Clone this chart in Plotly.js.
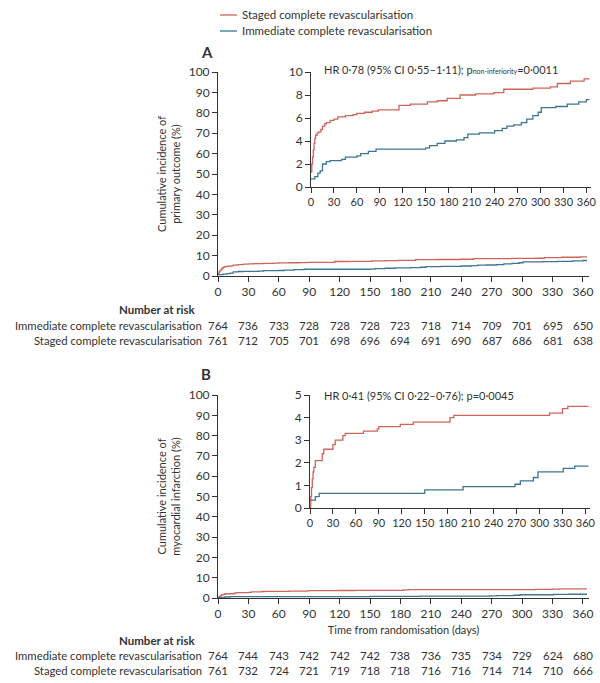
<!DOCTYPE html>
<html>
<head>
<meta charset="utf-8">
<script src="https://cdn.plot.ly/plotly-3.0.1.min.js"></script>
<style>
  html, body { margin: 0; padding: 0; background: #fff; }
  #chart { width: 600px; height: 683px; }
</style>
</head>
<body>
<div id="chart"></div>
<script>
// step curves (days, cumulative %)
const stagedA_days = [0, 1, 2, 3, 4, 5, 6, 8, 10, 13, 15, 18, 20, 25, 30, 35, 45, 55, 60, 70, 80, 88, 115, 130, 152, 165, 178, 195, 215, 239, 252, 290, 313, 322, 339, 357, 364];
const stagedA_vals = [1.3, 2.0, 2.6, 3.2, 3.8, 4.2, 4.5, 4.7, 4.8, 5.0, 5.3, 5.5, 5.6, 5.8, 5.9, 6.1, 6.2, 6.3, 6.4, 6.5, 6.6, 6.7, 7.1, 7.2, 7.4, 7.5, 7.7, 8.0, 8.1, 8.2, 8.5, 8.6, 8.7, 9.0, 9.2, 9.4, 9.4];

const immA_days = [0, 5, 9, 12, 15, 20, 25, 40, 45, 60, 65, 75, 85, 150, 155, 165, 175, 190, 200, 205, 220, 240, 250, 256, 265, 275, 282, 290, 297, 301, 320, 335, 350, 360, 364];
const immA_vals = [0.7, 0.9, 1.2, 1.4, 2.0, 2.2, 2.3, 2.4, 2.6, 2.7, 2.9, 3.1, 3.3, 3.4, 3.6, 3.8, 4.0, 4.1, 4.3, 4.6, 4.7, 4.9, 5.1, 5.3, 5.4, 5.6, 5.9, 6.2, 6.5, 6.9, 7.0, 7.2, 7.4, 7.6, 7.6];

const stagedB_days = [0, 1, 2, 3, 4, 5, 7, 16, 18, 30, 33, 43, 46, 70, 88, 90, 118, 135, 183, 188, 313, 330, 337, 364];
const stagedB_vals = [0, 0.5, 0.9, 1.3, 1.6, 1.8, 2.1, 2.4, 2.6, 2.8, 3.0, 3.2, 3.3, 3.4, 3.5, 3.6, 3.7, 3.8, 4.0, 4.1, 4.2, 4.4, 4.5, 4.5];

const immB_days = [0, 7, 12, 150, 200, 268, 275, 292, 298, 331, 346, 364];
const immB_vals = [0.35, 0.5, 0.65, 0.8, 0.95, 1.05, 1.2, 1.35, 1.6, 1.75, 1.85, 1.85];

// number at risk
const riskDays = [0, 30, 60, 90, 120, 150, 180, 210, 240, 270, 300, 330, 360];
const riskA_imm = [764, 736, 733, 728, 728, 728, 723, 718, 714, 709, 701, 695, 650];
const riskA_stg = [761, 712, 705, 701, 698, 696, 694, 691, 690, 687, 686, 681, 638];
const riskB_imm = [764, 744, 743, 742, 742, 742, 738, 736, 735, 734, 729, 624, 680];
const riskB_stg = [761, 732, 724, 721, 719, 718, 718, 716, 716, 714, 714, 710, 666];

const RED = '#d0645a';
const BLUE = '#3d7592';
const FONT = 'Lato, "Liberation Sans", sans-serif';
const TXT = '#333';

const W = 600, H = 683;
const px = x => x / W;
const py = y => 1 - y / H;

function curve(x, y, color, xa, ya, name) {
  return {
    x: x, y: y, type: 'scatter', mode: 'lines',
    line: { shape: 'hv', color: color, width: 1.3 },
    xaxis: xa, yaxis: ya, name: name, showlegend: false, hoverinfo: 'skip'
  };
}

const data = [
  curve(stagedA_days, stagedA_vals, RED, 'x', 'y', 'Staged complete revascularisation'),
  curve(immA_days, immA_vals, BLUE, 'x', 'y', 'Immediate complete revascularisation'),
  curve(stagedA_days, stagedA_vals, RED, 'x2', 'y2', 'staged'),
  curve(immA_days, immA_vals, BLUE, 'x2', 'y2', 'immediate'),
  curve(stagedB_days, stagedB_vals, RED, 'x3', 'y3', 'staged'),
  curve(immB_days, immB_vals, BLUE, 'x3', 'y3', 'immediate'),
  curve(stagedB_days, stagedB_vals, RED, 'x4', 'y4', 'staged'),
  curve(immB_days, immB_vals, BLUE, 'x4', 'y4', 'immediate')
];

function xax(domain, anchor, size) {
  return {
    domain: domain, anchor: anchor, range: [0, 366],
    tickvals: riskDays, ticks: 'outside', ticklen: 5, tickcolor: TXT,
    showline: true, linecolor: TXT, linewidth: 1,
    showgrid: false, zeroline: false,
    tickfont: { family: FONT, size: size, color: TXT }
  };
}

function yax(domain, anchor, range, dtick, size, title) {
  const ax = {
    domain: domain, anchor: anchor, range: range, dtick: dtick,
    ticks: 'outside', ticklen: 5, tickcolor: TXT,
    showline: true, linecolor: TXT, linewidth: 1,
    showgrid: false, zeroline: false,
    tickfont: { family: FONT, size: size, color: TXT }
  };
  if (title) {
    ax.title = { text: title, font: { family: FONT, size: 11, color: TXT }, standoff: 5 };
  }
  return ax;
}

const annotations = [];

function note(text, x, y, opts) {
  annotations.push(Object.assign({
    text: text, x: x, y: y, xref: 'paper', yref: 'paper',
    showarrow: false, xanchor: 'left', yanchor: 'middle',
    font: { family: FONT, size: 11.3, color: TXT }
  }, opts || {}));
}

// legend drawn by hand so the line samples stay short
const shapes = [
  { type: 'line', xref: 'paper', yref: 'paper', x0: px(220), x1: px(237), y0: py(15), y1: py(15), line: { color: RED, width: 1.3 } },
  { type: 'line', xref: 'paper', yref: 'paper', x0: px(220), x1: px(237), y0: py(31), y1: py(31), line: { color: BLUE, width: 1.3 } }
];
note('Staged complete revascularisation', px(240), py(15), { font: { family: FONT, size: 11.5, color: TXT } });
note('Immediate complete revascularisation', px(240), py(31), { font: { family: FONT, size: 11.5, color: TXT } });

note('<b>A</b>', px(199), py(52), { font: { family: FONT, size: 15, color: TXT } });
note('<b>B</b>', px(199), py(374), { font: { family: FONT, size: 15, color: TXT } });
note('HR 0·78 (95% CI 0·55–1·11); p<span style="font-size:7px">non-inferiority</span>=0·0011', px(322), py(70), { font: { family: FONT, size: 11, color: TXT } });
note('HR 0·41 (95% CI 0·22–0·76); p=0·0045', px(322), py(395), { font: { family: FONT, size: 11, color: TXT } });

function riskTable(xref, yTitle, imm, stg) {
  note('<b>Number at risk</b>', px(197), py(yTitle), { font: { family: FONT, size: 11.5, color: TXT }, xanchor: 'right' });
  note('Immediate complete revascularisation', px(204), py(yTitle + 15.5), { xanchor: 'right' });
  note('Staged complete revascularisation', px(204), py(yTitle + 30), { xanchor: 'right' });
  riskDays.forEach((d, i) => {
    note(String(imm[i]), d, py(yTitle + 15.5), { xref: xref, xanchor: 'center', font: { family: FONT, size: 11.5, color: TXT } });
    note(String(stg[i]), d, py(yTitle + 30), { xref: xref, xanchor: 'center', font: { family: FONT, size: 11.5, color: TXT } });
  });
}

riskTable('x', 310, riskA_imm, riskA_stg);
riskTable('x3', 640, riskB_imm, riskB_stg);

const xaxis3 = xax([px(218), px(589)], 'y3', 12);
xaxis3.title = { text: 'Time from randomisation (days)', font: { family: FONT, size: 11, color: TXT }, standoff: 5 };

const layout = {
  width: W, height: H,
  margin: { l: 0, r: 0, t: 0, b: 0 },
  paper_bgcolor: '#fff', plot_bgcolor: 'rgba(0,0,0,0)',
  showlegend: false,
  xaxis: xax([px(218), px(589)], 'y', 12),
  yaxis: yax([py(276), py(72)], 'x', [0, 100], 10, 12, 'Cumulative incidence of<br>primary outcome (%)'),
  xaxis2: xax([px(311), px(591)], 'y2', 11),
  yaxis2: yax([py(187), py(72)], 'x2', [0, 10], 2, 12),
  xaxis3: xaxis3,
  yaxis3: yax([py(598), py(395)], 'x3', [0, 100], 10, 12, 'Cumulative incidence of<br>myocardial infarction (%)'),
  xaxis4: xax([px(310), px(590)], 'y4', 11),
  yaxis4: yax([py(508), py(395)], 'x4', [0, 5], 1, 12),
  shapes: shapes,
  annotations: annotations
};

Plotly.newPlot('chart', data, layout, { displayModeBar: false, staticPlot: true });
</script>
</body>
</html>
